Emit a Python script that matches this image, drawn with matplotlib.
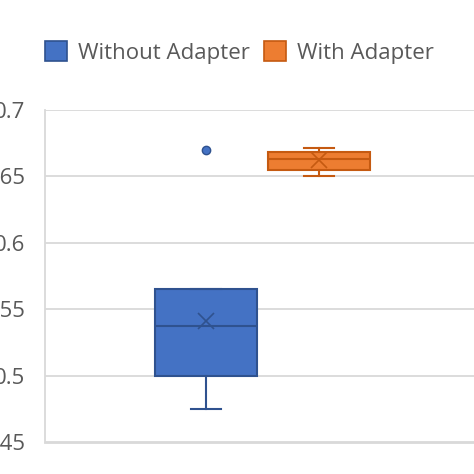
import matplotlib
matplotlib.use('Agg')
import matplotlib.pyplot as plt
from matplotlib.patches import Patch

plt.rcParams['font.family'] = ['Open Sans', 'DejaVu Sans']

# ---- data
series = ['Without Adapter', 'With Adapter']
q1 = [0.500, 0.655]
med = [0.5377, 0.663]
q3 = [0.5652, 0.6685]
whislo = [0.4752, 0.650]
whishi = [0.5652, 0.6718]
means = [0.541, 0.6622]
fliers = [[0.670], []]
yticks = [0.45, 0.5, 0.55, 0.6, 0.65, 0.7]
ytickLabels = ['0.45', '0.5', '0.55', '0.6', '0.65', '0.7']

faceColors = ['#4472C4', '#ED7D31']
edgeColors = ['#2F528F', '#C55A11']
textColor = '#595959'
gridColor = '#D9D9D9'

W = 474
fig = plt.figure(figsize=(4.74, 4.74), dpi=100)
ax = fig.add_axes([45 / W, (W - 442.5) / W, 435 / W, (442.5 - 110) / W])

positions = [0.370, 0.630]
for i in range(len(series)):
    stats = [dict(q1=q1[i], med=med[i], q3=q3[i], whislo=whislo[i], whishi=whishi[i],
                  mean=means[i], fliers=fliers[i])]
    ec = edgeColors[i]
    ax.bxp(stats, positions=[positions[i]], widths=0.2345, capwidths=0.068,
           patch_artist=True, showmeans=True, manage_ticks=False,
           boxprops=dict(facecolor=faceColors[i], edgecolor=ec, linewidth=1.5),
           medianprops=dict(color=ec, linewidth=1.5),
           whiskerprops=dict(color=ec, linewidth=1.5),
           capprops=dict(color=ec, linewidth=1.5),
           meanprops=dict(marker='x', markeredgecolor=ec, markersize=12, markeredgewidth=1.2),
           flierprops=dict(marker='o', markerfacecolor=faceColors[i], markeredgecolor=ec,
                           markersize=6))

ax.set_xlim(0, 1)
ax.set_ylim(0.45, 0.7)
ax.set_yticks(yticks)
ax.set_yticklabels(ytickLabels)
ax.set_xticks([])
ax.tick_params(axis='y', length=0, pad=14, labelsize=16, labelcolor=textColor)
ax.yaxis.grid(True, color=gridColor, linewidth=1.3)
ax.set_axisbelow(True)
for s in ['top', 'right']:
    ax.spines[s].set_visible(False)
for s in ['left', 'bottom']:
    ax.spines[s].set_color(gridColor)
    ax.spines[s].set_linewidth(1.3)

handles = [Patch(facecolor=faceColors[i], edgecolor=edgeColors[i], linewidth=1.2, label=series[i])
           for i in range(len(series))]
fig.legend(handles=handles, loc='upper left', bbox_to_anchor=(25 / W, 1 - 21 / W), ncol=2,
           frameon=False, fontsize=16, labelcolor=textColor, handlelength=1.0, handleheight=1.0,
           handletextpad=0.5, columnspacing=0.6)

fig.savefig('out.png', dpi=100)
